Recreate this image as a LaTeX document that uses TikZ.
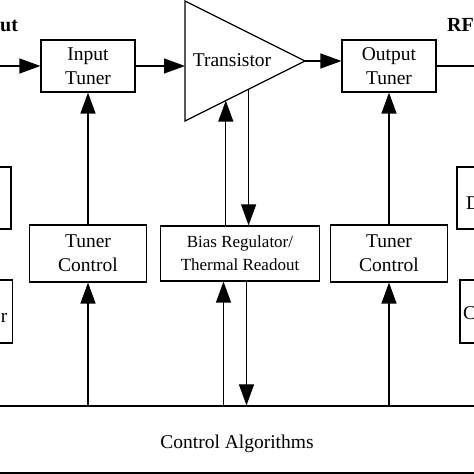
\documentclass[tikz,border=0pt]{standalone}
\usepackage{fontspec}
\setmainfont{Liberation Serif}
\usetikzlibrary{arrows.meta,calc,positioning}
\tikzstyle{block} = [rectangle, draw, line width=1.2pt, align=center,
    minimum width=94pt, minimum height=52pt, inner sep=0pt,
    font=\fontsize{19.5}{24}\selectfont]
\tikzstyle{control} = [block, minimum width=117pt, minimum height=57pt]
\tikzstyle{side} = [rectangle, draw, line width=1.2pt, minimum width=100pt, minimum height=62pt]
\tikzstyle{label} = [font=\fontsize{19.5}{24}\selectfont, inner sep=0pt]
\tikzstyle{port} = [font=\bfseries\fontsize{20}{24}\selectfont, inner sep=0pt]
\tikzstyle{line} = [draw, line width=1.2pt, -{Triangle[length=21pt,width=15pt]}]

\begin{document}
\begin{tikzpicture}[x=1pt, y=1pt, node distance=187.5pt]
    \useasboundingbox (0,0) rectangle (474,474);
    % Place nodes
    \node [block] (intuner) at (88,408) {Input\\Tuner};
    \node [block, right of=intuner, node distance=301pt] (outtuner) {Output\\Tuner};
    \node [control, below of=intuner] (inctrl) {Tuner\\Control};
    \node [control, below of=outtuner] (outctrl) {Tuner\\Control};
    \node [block, right of=inctrl, node distance=152pt, minimum width=159pt, minimum height=55pt,
        font=\fontsize{17}{23}\selectfont] (bias) {Bias Regulator/\\Thermal Readout};
    \node [block, minimum width=500pt, minimum height=67pt, text height=23pt, text depth=4pt]
        (algo) at (237,34.5) {Control Algorithms};
    % Transistor
    \coordinate (tT) at (185,473);
    \coordinate (tB) at (185,353);
    \coordinate (tA) at (305,413);
    \draw [line width=1.2pt] (tT) -- (tA) -- (tB) -- cycle;
    \node [label] (trans) at (232,414) {Transistor};
    % Ports and side blocks
    \coordinate (inport) at (-5,408);
    \coordinate (outport) at (480,408);
    \node [port, anchor=base west] (rfin) at (0,442) {ut};
    \node [port, anchor=base west] (rfout) at (447,442) {RF};
    \node [side] (lbox1) at (-39,276) {};
    \node [side, minimum height=63pt] (lbox2) at (-37.3,162.5) {};
    \node [side] (rbox1) at (507,276) {};
    \node [side, minimum height=63pt] (rbox2) at (510,162.5) {};
    \node [label, anchor=base east] (lname) at (7.5,151) {r};
    \node [label, anchor=base west] (rname1) at (466,264) {D};
    \node [label, anchor=base west] (rname2) at (463,154) {C};
    % Draw edges
    \path [line] (inport) -- (intuner);
    \path [line] (intuner) -- (intuner -| tT);
    \path [line] (tA) -- (tA -| outtuner.west);
    \draw [line width=1.2pt] (outtuner) -- (outtuner -| outport);
    \path [line] (intuner |- inctrl.north) -- (intuner);
    \path [line] (inctrl |- algo.north) -- (inctrl);
    \path [line] (outtuner |- outctrl.north) -- (outtuner);
    \path [line] (outctrl |- algo.north) -- (outctrl);
    \coordinate (bup) at ($(tB)!0.34!(tA)$);
    \coordinate (bdn) at ($(tB)!0.53!(tA)$);
    \path [line] (bup |- bias.north) -- (bup);
    \path [line] (bdn) -- (bdn |- bias.north);
    \coordinate (bin) at ([xshift=-16.5pt]bias.south);
    \coordinate (bout) at ([xshift=6.5pt]bias.south);
    \path [line] (bin |- algo.north) -- (bin);
    \path [line] (bout) -- (bout |- algo.north);
\end{tikzpicture}
\end{document}
